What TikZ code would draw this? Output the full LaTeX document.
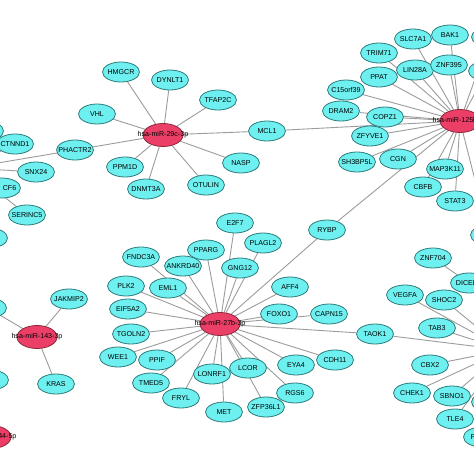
\documentclass[tikz,border=0pt]{standalone}
\usepackage{fontspec}
\setmainfont{Liberation Sans}
\usetikzlibrary{shapes.geometric}
\definecolor{cyfill}{HTML}{6EF0F0}
\definecolor{cyline}{HTML}{2E7C7C}
\definecolor{rdfill}{HTML}{EC3F68}
\definecolor{rdline}{HTML}{8A2A3A}
\definecolor{edgec}{HTML}{9C9C9C}
\newcommand{\gtxt}[1]{\makebox[0pt]{#1}}
\pgfdeclarelayer{bg}
\pgfsetlayers{bg,main}
\begin{document}
\begin{tikzpicture}[x=1pt,y=-1pt,
 gene/.style={ellipse, draw=cyline, fill=cyfill, line width=0.8pt, minimum width=37pt, minimum height=20pt, inner sep=0pt, font=\fontsize{7.1}{8}\selectfont},
 mir/.style={ellipse, draw=rdline, fill=rdfill, line width=0.8pt, minimum width=40pt, minimum height=23pt, inner sep=0pt, font=\fontsize{7.1}{8}\selectfont},
 lk/.style={draw=edgec, line width=0.9pt}]
\clip (0,0) rectangle (474,474);
% ---- miR-29c cluster
\node[mir] (m29c) at (163,135) {\gtxt{hsa-miR-29c-3p}};
\node[gene] (HMGCR) at (121,72) {\gtxt{HMGCR}};
\node[gene] (DYNLT1) at (170,80) {\gtxt{DYNLT1}};
\node[gene] (TFAP2C) at (218,100) {\gtxt{TFAP2C}};
\node[gene] (VHL) at (97,114) {\gtxt{VHL}};
\node[gene] (PHACTR2) at (75,150) {\gtxt{PHACTR2}};
\node[gene] (PPM1D) at (125,167) {\gtxt{PPM1D}};
\node[gene] (DNMT3A) at (146,189) {\gtxt{DNMT3A}};
\node[gene] (OTULIN) at (206,185) {\gtxt{OTULIN}};
\node[gene] (NASP) at (241,163) {\gtxt{NASP}};
\node[gene] (MCL1) at (267,131) {\gtxt{MCL1}};
% ---- left cluster (hub outside)
\coordinate (Lhub) at (-32,168);
\node[gene] (L1) at (-15,131) {};
\node[gene] (CTNND1) at (15,144) {\gtxt{CTNND1}};
\node[gene] (SNX24) at (36,172) {\gtxt{SNX24}};
\node[gene] (CF6) at (2,188) {\gtxt{\phantom{ARH}CF6}};
\node[gene] (SERINC5) at (27,215) {\gtxt{SERINC5}};
\node[gene] (L2) at (-11,238) {};
% ---- miR-125b cluster
\node[mir] (m125b) at (460,121) {\gtxt{hsa-miR-125b-5p}};
\node[gene] (SLC7A1) at (413,39) {\gtxt{SLC7A1}};
\node[gene] (BAK1) at (450,35) {\gtxt{BAK1}};
\node[gene] (R1) at (490,37) {};
\node[gene] (TRIM71) at (379,53) {\gtxt{TRIM71}};
\node[gene] (LIN28A) at (415,70) {\gtxt{LIN28A}};
\node[gene] (ZNF395) at (449,65) {\gtxt{ZNF395}};
\node[gene] (R2) at (487,71) {};
\node[gene] (PPAT) at (379,77) {\gtxt{PPAT}};
\node[gene] (C15orf39) at (346,90) {\gtxt{C15orf39}};
\node[gene] (DRAM2) at (341,111) {\gtxt{DRAM2}};
\node[gene] (COPZ1) at (385,117) {\gtxt{COPZ1}};
\node[gene] (ZFYVE1) at (370,136) {\gtxt{ZFYVE1}};
\node[gene] (SH3BP5L) at (357,162) {\gtxt{SH3BP5L}};
\node[gene] (CGN) at (398,159) {\gtxt{CGN}};
\node[gene] (MAP3K11) at (445,169) {\gtxt{MAP3K11}};
\node[gene] (CBFB) at (423,187) {\gtxt{CBFB}};
\node[gene] (STAT3) at (455,201) {\gtxt{STAT3}};
\node[gene] (R3) at (489,235) {};
\node[gene] (RYBP) at (327,230) {\gtxt{RYBP}};
% ---- miR-27b cluster
\node[mir] (m27b) at (220,324) {\gtxt{hsa-miR-27b-3p}};
\node[gene] (E2F7) at (235,223) {\gtxt{E2F7}};
\node[gene] (PLAGL2) at (263,243) {\gtxt{PLAGL2}};
\node[gene] (PPARG) at (206,250) {\gtxt{PPARG}};
\node[gene] (FNDC3A) at (141,257) {\gtxt{FNDC3A}};
\node[gene] (ANKRD40) at (183,266) {\gtxt{ANKRD40}};
\node[gene] (GNG12) at (240,268) {\gtxt{GNG12}};
\node[gene] (PLK2) at (126,286) {\gtxt{PLK2}};
\node[gene] (EML1) at (168,288) {\gtxt{EML1}};
\node[gene] (AFF4) at (290,287) {\gtxt{AFF4}};
\node[gene] (EIF5A2) at (128,309) {\gtxt{EIF5A2}};
\node[gene] (FOXO1) at (279,314) {\gtxt{FOXO1}};
\node[gene] (CAPN15) at (329,314) {\gtxt{CAPN15}};
\node[gene] (TGOLN2) at (131,334) {\gtxt{TGOLN2}};
\node[gene] (TAOK1) at (375,334) {\gtxt{TAOK1}};
\node[gene] (WEE1) at (118,357) {\gtxt{WEE1}};
\node[gene] (PPIF) at (157,360) {\gtxt{PPIF}};
\node[gene] (CDH11) at (335,360) {\gtxt{CDH11}};
\node[gene] (EYA4) at (296,365) {\gtxt{EYA4}};
\node[gene] (LCOR) at (248,368) {\gtxt{LCOR}};
\node[gene] (LONRF1) at (212,374) {\gtxt{LONRF1}};
\node[gene] (TMED5) at (151,383) {\gtxt{TMED5}};
\node[gene] (RGS6) at (295,393) {\gtxt{RGS6}};
\node[gene] (FRYL) at (181,398) {\gtxt{FRYL}};
\node[gene] (ZFP36L1) at (266,407) {\gtxt{ZFP36L1}};
\node[gene] (MET) at (224,412) {\gtxt{MET}};
% ---- miR-143 cluster
\node[mir] (m143) at (37,337) {\gtxt{hsa-miR-143-3p}};
\node[gene] (JAKMIP2) at (69,299) {\gtxt{JAKMIP2}};
\node[gene] (KRAS) at (56,384) {\gtxt{KRAS}};
\node[gene] (B1) at (-12,308) {};
\node[gene] (B2) at (-10,380) {};
\node[mir] (m144) at (-9,437) {\gtxt{hsa-miR-144-5p}};
% ---- right-bottom cluster (hub outside)
\coordinate (Rhub) at (505,350);
\node[gene] (ZNF704) at (433,258) {\gtxt{ZNF704}};
\node[gene] (DICER1) at (469,283) {\gtxt{DICER1}};
\node[gene] (VEGFA) at (405,295) {\gtxt{VEGFA}};
\node[gene] (SHOC2) at (444,300) {\gtxt{SHOC2}};
\node[gene] (TAB3) at (437,328) {\gtxt{TAB3}};
\node[gene] (CBX2) at (430,365) {\gtxt{CBX2}};
\node[gene] (CHEK1) at (412,393) {\gtxt{CHEK1}};
\node[gene] (SBNO1) at (452,396) {\gtxt{SBNO1}};
\node[gene] (R4) at (490,402) {};
\node[gene] (TLE4) at (455,419) {\gtxt{TLE4}};
\node[gene] (PE) at (482,437) {\gtxt{PE\phantom{G10}}};
% ---- edges
\begin{pgfonlayer}{bg}
\fill[white] (0,0) rectangle (474,474);
\foreach \t in {HMGCR,DYNLT1,TFAP2C,VHL,PHACTR2,PPM1D,DNMT3A,OTULIN,NASP,MCL1}
  \draw[lk] (m29c) -- (\t);
\foreach \t in {L1,CTNND1,PHACTR2,SNX24,CF6,SERINC5,L2}
  \draw[lk] (Lhub) -- (\t);
\foreach \t in {SLC7A1,BAK1,R1,TRIM71,LIN28A,ZNF395,R2,PPAT,C15orf39,DRAM2,COPZ1,ZFYVE1,SH3BP5L,CGN,MAP3K11,CBFB,STAT3,R3,MCL1,RYBP}
  \draw[lk] (m125b) -- (\t);
\foreach \t in {E2F7,PLAGL2,PPARG,FNDC3A,ANKRD40,GNG12,PLK2,EML1,AFF4,EIF5A2,FOXO1,CAPN15,TGOLN2,TAOK1,WEE1,PPIF,CDH11,EYA4,LCOR,LONRF1,TMED5,RGS6,FRYL,ZFP36L1,MET,RYBP}
  \draw[lk] (m27b) -- (\t);
\foreach \t in {JAKMIP2,KRAS,B1}
  \draw[lk] (m143) -- (\t);
\draw[lk] (ZNF704) -- (DICER1);
\foreach \t in {DICER1,VEGFA,SHOC2,TAB3,CBX2,CHEK1,SBNO1,R4,TLE4,PE,TAOK1}
  \draw[lk] (Rhub) -- (\t);
\end{pgfonlayer}
\end{tikzpicture}
\end{document}
